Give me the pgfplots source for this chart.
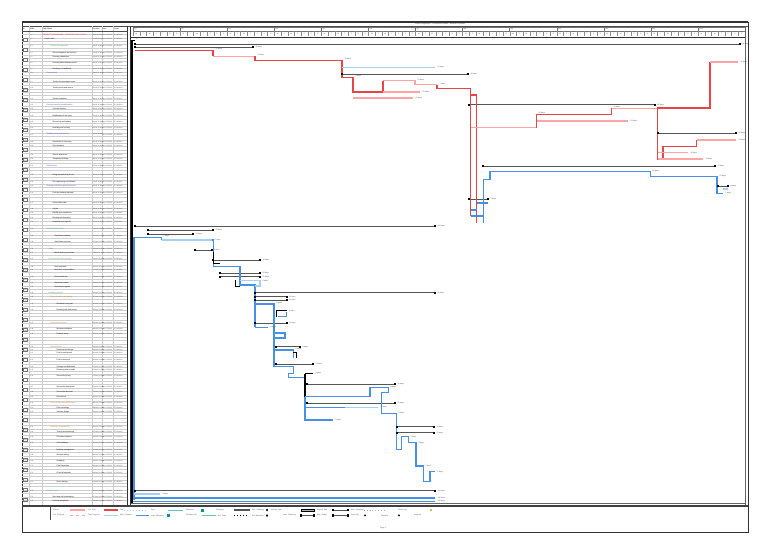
\documentclass[border=0pt]{standalone}
\usepackage{fontspec}
\setmainfont{Liberation Sans}
\usepackage{pgfplots}
\pgfplotsset{compat=1.18}
\definecolor{crit}{RGB}{232,70,70}
\definecolor{critl}{RGB}{255,165,165}
\definecolor{tblue}{RGB}{70,145,225}
\definecolor{tbluel}{RGB}{165,208,245}
\definecolor{summ}{RGB}{85,85,85}
\definecolor{gridc}{RGB}{205,205,205}
\definecolor{hred}{RGB}{230,40,40}
\definecolor{hgreen}{RGB}{60,180,90}
\definecolor{hblue}{RGB}{50,80,200}
\definecolor{horange}{RGB}{235,120,30}
\definecolor{txtc}{RGB}{80,80,80}
\definecolor{cyanl}{RGB}{90,200,210}
\definecolor{teal2}{RGB}{20,140,150}
\newcommand\tx{\fontsize{1.8}{2}\selectfont}
\newcommand\ty{\fontsize{1.6}{1.8}\selectfont}
\pgfplotsset{
 sbar/.style={color=summ, line width=1bp, mark=square*, mark size=0.6bp, mark options={fill=black,draw=black}},
 cbar/.style={color=crit, line width=1.3bp},
 pbar/.style={color=critl, line width=1.3bp},
 bbar/.style={color=tblue, line width=1.2bp},
 lbbar/.style={color=tbluel, line width=1.2bp},
 kbar/.style={color=black, line width=1bp},
}
\begin{document}
\begin{tikzpicture}
% ---------- background: frame, table, timescale ----------
\begin{scope}[x=1bp,y=-1bp]
\path[fill=white] (0,0) rectangle (768,543);
\draw[line width=0.8bp, black!80] (22,22) rectangle (748,532);
\draw[line width=1.6bp, black!80] (22,22) -- (748,22);
\node[font=\tx, text=txtc, inner sep=0] at (440,24.3) {Project Programme -- Construction Phase -- Baseline Schedule};
\draw[line width=0.4bp, black!70] (22,26) -- (748,26);
\foreach \xx in {29.3,41.7,91.7,101.7,113.3,126.7}{\draw[gridc, line width=0.35bp] (\xx,26) -- (\xx,505);}
\draw[black!80, line width=0.6bp] (127.5,26) -- (127.5,505);
\draw[black!80, line width=0.6bp] (130.5,26) -- (130.5,505);
\node[font=\tx,anchor=west,inner sep=0] at (23,28.5) {ID};
\node[font=\tx,anchor=west,inner sep=0] at (30,28.5) {WBS};
\node[font=\tx,anchor=west,inner sep=0] at (43,28.5) {Task Name};
\node[font=\tx,anchor=west,inner sep=0] at (92.5,28.5) {Duration};
\node[font=\tx,anchor=west,inner sep=0] at (102.5,28.5) {Start};
\node[font=\tx,anchor=west,inner sep=0] at (114,28.5) {Finish};
\draw[black!70, line width=0.4bp] (22,31) -- (127.5,31);
\foreach \yy in {34.4,37.8,...,503}{\draw[gridc, line width=0.25bp] (22,\yy) -- (126.7,\yy);}
\foreach \yy in {38,48,58,68,78,88,98,108,118,128,138,148,158,168,178,188,198,208,218,228,238,248,258,268,278,288,298,308,318,328,338,348,358,368,378,388,398,408,418,428,438,448,458,468,478,488,498}{\draw[black!55, line width=0.2bp] (22.8,\yy) rectangle ++(4.5,3.2);}
\foreach \yy/\ind/\c/\n [count=\i] in {
35/0/hred/PROJECT PROGRAMME - CONSTRUCTION PHASE,
39.3/2/black/Project start,
46/8/hgreen/Design and approvals,
52.7/10/black/Site investigation and surveys,
56.7/10/black/Planning submission,
63.3/10/black/Planning determination period,
69.3/10/black/Discharge of conditions,
73.3/4/hblue/Procurement,
81.7/10/black/Tender documentation issue,
88.3/10/black/Tender period and returns,
99/10/black/Tender evaluation,
105/4/hblue/Contract award and mobilisation,
109/10/black/Contract signing,
115.8/10/black/Mobilisation of site team,
121.7/10/black/Site set-up and welfare,
128.3/10/black/Hoarding and security,
134.5/4/hblue/Enabling works and services,
141.7/10/black/Demolition of structures,
146/10/black/Site clearance,
155/10/black/Service diversions,
159.3/10/black/Temporary drainage,
166/4/hblue/Substructure,
175/10/black/Piling mat and piling works,
181.7/10/black/Pile caps and ground beams,
185.7/4/hblue/Drainage and below ground services,
192.7/10/black/Foul and surface drainage,
202.7/10/black/Ground floor slab,
209/10/black/Lift pits,
212.7/10/black/Backfill and compaction,
218.3/10/black/Blinding and formation,
222.3/10/black/Inspection and sign off,
229.3/4/hgreen/Superstructure frame,
236/12/black/Steel frame delivery,
241.7/12/black/Steel frame erection,
249/6/hgreen/Floors,
253.3/12/black/Metal decking and studs,
259/6/hgreen/Roof structure and coverings,
266.7/12/black/Roof steelwork,
270/12/black/Roof deck and insulation,
276.7/12/black/Roof membrane,
282.7/12/black/Rainwater outlets,
286.7/12/black/Roof plant supports,
292.7/6/hgreen/Building envelope,
296.7/8/horange/External walls and cladding,
304/14/black/Blockwork inner leaf,
310/14/black/Cladding rails and panels,
323.3/8/horange/Windows and doors,
329.3/14/black/Window installation,
334/14/black/External doors,
346.7/8/horange/Internal fit-out,
350/14/black/Partitions and linings,
353.3/14/black/First fix mechanical,
360/14/black/First fix electrical,
366.7/14/black/Ceilings and bulkheads,
370/14/black/Plastering and screeds,
376/14/black/Second fix joinery,
386.7/14/black/Second fix mechanical,
391.7/14/black/Second fix electrical,
396.7/14/black/Decorations,
402.7/8/horange/Floor finishes and sanitaryware,
408.3/14/black/Floor coverings,
411.7/14/black/Sanitary fittings,
427/8/horange/M and E commissioning,
431.7/14/black/Testing and balancing,
436.7/14/black/Fire alarm systems,
443/14/black/Lift installation,
450/14/black/Building management,
455/14/black/Witness testing,
461/14/black/Snagging,
466/14/black/Final inspection,
473/14/black/O and M manuals,
481.7/14/black/Client training,
490.7/4/hgreen/External works,
496.7/10/black/Hard and soft landscaping,
501/10/black/Practical completion}{
 \node[font=\ty,anchor=west,text=txtc,inner sep=0] at (30,\yy) {1.\i};
 \node[font=\tx,anchor=west,text=\c,inner sep=0] at (42.5+\ind,\yy) {\n};
 \node[font=\ty,anchor=west,text=txtc,inner sep=0] at (92.3,\yy) {\the\numexpr 5+\i*3 mod 40\relax\ days};
 \node[font=\ty,anchor=west,text=txtc,inner sep=0] at (102.2,\yy) {Mon 07/01/19};
 \node[font=\ty,anchor=west,text=txtc,inner sep=0] at (113.8,\yy) {Fri 18/10/19};
}
\foreach \i in {0,...,12}{
 \pgfmathsetmacro\xa{133+\i*47.08}
 \draw[black!55, line width=0.3bp] (\xa,27) rectangle ++(47.08,4.4);
 \node[font=\tx,anchor=west,text=txtc,inner sep=0] at (\xa+1,29.2) {Q\the\numexpr 1+\i\relax};
 \foreach \d [count=\j from 0] in {M,T,W,T,F,S,S}{
   \draw[black!45, line width=0.25bp] (\xa+\j*6.726,31.4) -- ++(0,5);
   \node[font=\tx,text=txtc,inner sep=0] at (\xa+\j*6.726+3.36,33.9) {\d};
 }
}
\draw[black!80, line width=1bp] (131,37.5) -- (745,37.5);
\draw[black!60, line width=0.5bp] (745,26) -- (745,505);
\draw[black!60, line width=0.4bp] (131,503.5) -- (745,503.5);
\draw[black!75, line width=2bp] (22,505.5) -- (748,505.5);
\draw[black!70, line width=0.6bp] (50,507) -- (50,520);
\node[font=\tx,text=txtc,inner sep=0] at (383,528) {Page 1};
\end{scope}
% ---------- gantt bars (data in pixel units of the sheet) ----------
\begin{axis}[at={(0bp,0bp)}, anchor=north west, scale only axis, width=768bp, height=543bp,
  xmin=0, xmax=768, ymin=0, ymax=543, y dir=reverse, hide axis, clip=false]
\addplot[kbar, line width=1.2bp] coordinates {(132,40) (132,503)};
\addplot[kbar] coordinates {(132,40) (135,40)};
\addplot[sbar] coordinates {(135,44) (740,44)};
\addplot[sbar] coordinates {(135,47) (253,47)};
\addplot[sbar] coordinates {(342,74) (468,74)};
\addplot[sbar] coordinates {(469,104.7) (655,104.7)};
\addplot[sbar] coordinates {(657.7,133.3) (736,133.3)};
\addplot[sbar] coordinates {(483.3,166) (715,166)};
\addplot[sbar] coordinates {(718,186) (728,186)};
\addplot[sbar] coordinates {(469.3,199.3) (488.3,199.3)};
\addplot[sbar] coordinates {(135,226) (435,226)};
\addplot[sbar] coordinates {(148.3,230) (213.3,230)};
\addplot[sbar] coordinates {(148.3,234) (193.3,234)};
\addplot[sbar] coordinates {(195,250) (211.7,250)};
\addplot[sbar] coordinates {(213.3,260) (260,260)};
\addplot[sbar] coordinates {(220,273.3) (260,273.3)};
\addplot[sbar] coordinates {(220,276.7) (260,276.7)};
\addplot[sbar] coordinates {(255,292.7) (435,292.7)};
\addplot[sbar] coordinates {(255,296.7) (286.7,296.7)};
\addplot[sbar] coordinates {(255,300) (286.7,300)};
\addplot[sbar] coordinates {(255,323.3) (286.7,323.3)};
\addplot[sbar] coordinates {(275.7,346.7) (300,346.7)};
\addplot[sbar] coordinates {(275.7,364) (313.3,364)};
\addplot[sbar] coordinates {(306.7,384) (395,384)};
\addplot[sbar] coordinates {(306.7,403.3) (395,403.3)};
\addplot[sbar] coordinates {(396.7,426.7) (434,426.7)};
\addplot[sbar] coordinates {(396.7,432.7) (434,432.7)};
\addplot[sbar] coordinates {(135,490.7) (435,490.7)};
\addplot[cbar] coordinates {(135,50.7) (213,50.7) (213,56.3)};
\addplot[pbar] coordinates {(213,56.3) (255,56.3)};
\addplot[cbar] coordinates {(255,56.3) (255,60.3) (342,60.3) (342,77.3) (353,77.3) (353,92) (383,92) (383,80.7)};
\addplot[pbar] coordinates {(383,92) (420,92)};
\addplot[pbar] coordinates {(353,98) (413,98)};
\addplot[pbar] coordinates {(383,80.7) (415,80.7) (415,84.7) (437,84.7)};
\addplot[cbar] coordinates {(437,84.7) (437,88.7) (470.7,88.7) (470.7,216)};
\addplot[cbar] coordinates {(470.7,95) (476.7,95) (476.7,222.7)};
\addplot[pbar] coordinates {(470.7,127.7) (536.7,127.7)};
\addplot[cbar] coordinates {(536.7,127.7) (536.7,114.3) (611.7,114.3) (611.7,108.3)};
\addplot[pbar] coordinates {(536.7,121) (628.3,121)};
\addplot[pbar] coordinates {(611.7,108.3) (657.7,108.3)};
\addplot[cbar] coordinates {(657.7,160) (657.7,108) (710,108) (710,62)};
\addplot[pbar] coordinates {(710,62) (738,62)};
\addplot[pbar] coordinates {(696.7,140) (736,140)};
\addplot[cbar] coordinates {(696.7,140) (696.7,146.7) (663,146.7) (663,160)};
\addplot[pbar] coordinates {(657.7,152.7) (688,152.7)};
\addplot[pbar] coordinates {(657.7,159) (703,159)};
\addplot[lbbar] coordinates {(342,67.3) (435,67.3)};
\addplot[bbar] coordinates {(483.3,222.7) (483.3,179.3) (490,179.3) (490,171.7) (650.7,171.7) (650.7,176.7) (717,176.7) (717,193.3) (723,193.3)};
\addplot[lbbar] coordinates {(723,189) (728,189)};
\addplot[bbar] coordinates {(470.7,210) (476.7,210)};
\addplot[bbar] coordinates {(476.7,203) (488,203)};
\addplot[bbar] coordinates {(476.7,216) (483.3,216)};
\addplot[bbar] coordinates {(470.7,216) (476.7,216)};
\addplot[bbar] coordinates {(134,500) (134,237.3) (161.7,237.3) (161.7,240)};
\addplot[lbbar] coordinates {(161.7,240) (211.7,240)};
\addplot[bbar] coordinates {(211.7,240) (213.3,240) (213.3,266.7) (240,266.7) (240,285) (255,285) (255,326.7)};
\addplot[kbar] coordinates {(213.3,251.7) (213.3,263.3) (220,263.3)};
\addplot[lbbar] coordinates {(240,280.7) (260,280.7) (260,286) (255,286)};
\addplot[kbar] coordinates {(235,280) (235,286.7) (240,286.7)};
\addplot[bbar] coordinates {(255,304) (274,304) (274,366.7)};
\addplot[bbar] coordinates {(255,327.3) (268,327.3)};
\addplot[kbar] coordinates {(276,316.7) (276,310.7) (286.7,310.7)};
\addplot[bbar] coordinates {(278,316.7) (286.7,316.7) (286.7,312)};
\addplot[bbar] coordinates {(274,333) (285,333) (285,338) (274,338)};
\addplot[bbar] coordinates {(274,350) (293.3,350) (293.3,358.3)};
\addplot[kbar] coordinates {(293.3,352) (296,352) (296,358.3)};
\addplot[bbar] coordinates {(274,366.7) (293.3,366.7) (293.3,373.3) (288.3,373.3) (288.3,377.3) (305,377.3)};
\addplot[kbar] coordinates {(305,373.3) (313.3,373.3)};
\addplot[kbar, line width=1.2bp] coordinates {(305,374) (305,396.7)};
\addplot[bbar] coordinates {(305,396.7) (305,420) (333.3,420)};
\addplot[bbar] coordinates {(305,396.7) (370,396.7) (370,387.3) (388.3,387.3) (388.3,392.7) (381.7,392.7) (381.7,413.3) (396.7,413.3) (396.7,449.3) (401.7,449.3) (401.7,436.7) (408.3,436.7) (408.3,442.7) (416,442.7) (416,466) (423.3,466) (423.3,481.7) (430,481.7) (430,471.7) (435,471.7)};
\addplot[bbar] coordinates {(305,407.3) (345,407.3)};
\addplot[lbbar] coordinates {(345,407.3) (378.3,407.3)};
\addplot[lbbar] coordinates {(134,494) (160,494)};
\addplot[bbar] coordinates {(133.3,498) (435,498)};
\addplot[bbar] coordinates {(133.3,501.3) (435,501.3)};
% legend samples
\addplot[pbar] coordinates {(70,510) (85,510)};
\addplot[cbar, line width=2bp] coordinates {(104,510) (118,510)};
\addplot[tbluel, dotted, line width=1bp] coordinates {(124,510) (147,510)};
\addplot[cyanl, line width=1bp] coordinates {(168,510) (183,510)};
\addplot[only marks, mark=square*, mark size=1bp, teal2] coordinates {(202,510)};
\addplot[summ, line width=2bp] coordinates {(234,510) (250,510)};
\addplot[only marks, mark=diamond*, mark size=1bp, black] coordinates {(267,510)};
\addplot[black, fill=gray!60, line width=0.6bp] coordinates {(301,508.8) (314,508.8) (314,511.2) (301,511.2) (301,508.8)};
\addplot[sbar] coordinates {(333,510) (348,510)};
\addplot[gray!60, dotted, line width=0.8bp] coordinates {(364,510) (384,510)};
\addplot[only marks, mark=diamond*, mark size=1bp, color={rgb,255:red,150;green,200;blue,60}] coordinates {(431,510)};
\addplot[critl, dashed, line width=1bp] coordinates {(70,515.5) (85,515.5)};
\addplot[lbbar, line width=1.8bp] coordinates {(104,515.5) (118,515.5)};
\addplot[bbar, line width=1.8bp] coordinates {(136,515.5) (149,515.5)};
\addplot[only marks, mark=square*, mark size=1bp, teal2] coordinates {(168,515.5)};
\addplot[cyanl, line width=1bp] coordinates {(202,515.5) (216,515.5)};
\addplot[black, dotted, line width=1bp] coordinates {(234,515.5) (248,515.5)};
\addplot[only marks, mark=diamond*, mark size=1bp, black] coordinates {(267,515.5)};
\addplot[sbar, line width=1.6bp] coordinates {(301,515.5) (314,515.5)};
\addplot[sbar] coordinates {(333,515.5) (348,515.5)};
\addplot[only marks, mark=triangle*, mark size=0.9bp, black] coordinates {(365,515.5)};
\addplot[only marks, mark=triangle*, mark size=0.9bp, black] coordinates {(399,515.5)};
\end{axis}
% ---------- labels ----------
\begin{scope}[x=1bp,y=-1bp]
\foreach \xx/\yy/\t in {135.5/39/07/01, 741/44/250 days, 255/47/60 days, 215/49.5/25 days, 257/55/14 days, 344/59/29 days,
 437/67.3/31 days, 470/74/40 days, 355/76.3/3 days, 422/92/12 days, 415/98/20 days, 417/79.7/10 days, 439/83.7/7 days,
 657/104.7/60 days, 613/107.3/15 days, 538/113.3/25 days, 630/121/30 days, 740/62/10 days, 738/133.3/25 days,
 738/140/13 days, 690/152.7/10 days, 705/159/15 days, 717/166/75 days, 652/170.7/55 days, 719/175.7/22 days,
 730/186/3 days, 725/193.3/2 days, 490/199.3/5 days, 437/226/100 days, 215/230/20 days, 195/234/15 days,
 163/236/4 days, 213.5/240/17 days, 213.5/250/5 days, 262/260/15 days, 262/273.3/15 days, 262/276.7/15 days,
 262/280.7/6 days, 437/292.7/60 days, 288.5/296.7/10 days, 288.5/300/10 days, 276/303/6 days, 288.5/310.7/4 days,
 288.5/323.3/10 days, 270/327.3/4 days, 302/346.7/8 days, 295/349/6 days, 315/364/12 days, 315/373.3/3 days,
 397/384/30 days, 390/387.3/6 days, 397/403.3/30 days, 380/407.3/25 days, 335/420/9 days, 398/413.3/5 days,
 436/426.7/12 days, 436/432.7/12 days, 410/436.7/2 days, 418/442.7/3 days, 425/466/2 days, 437/471.7/2 days,
 437/490.7/100 days, 162/494/8 days, 437/497.8/100 days, 437/501.5/100 days}{
 \node[font=\tx,anchor=west,text=txtc,inner sep=0] at (\xx+0.5,\yy) {\t};
}
\foreach \xx/\yy/\t in {53/510/Critical, 88/510/Crit. Split, 120/510/Task, 151/510/Split, 186/510/Milestone,
 216/510/Summary, 252/510/Proj. Summary, 271/510/Inactive Task, 317/510/Manual Task, 351/510/Man. Summary,
 398/510/Finish-only,
 53/515.5/Crit. Progress, 88/515.5/Task Progress, 120/515.5/Man. Progress, 151/515.5/Inact. Milestone,
 186/515.5/Duration-only, 218/515.5/Ext. Tasks, 252/515.5/Ext. Milestone, 283/515.5/Inact. Summary,
 317/515.5/Man. Rollup, 351/515.5/Start-only, 381/515.5/Deadline, 414/515.5/Progress}{
 \node[font=\tx,anchor=west,text=txtc,inner sep=0] at (\xx,\yy) {\t};
}
\end{scope}
\end{tikzpicture}
\end{document}
